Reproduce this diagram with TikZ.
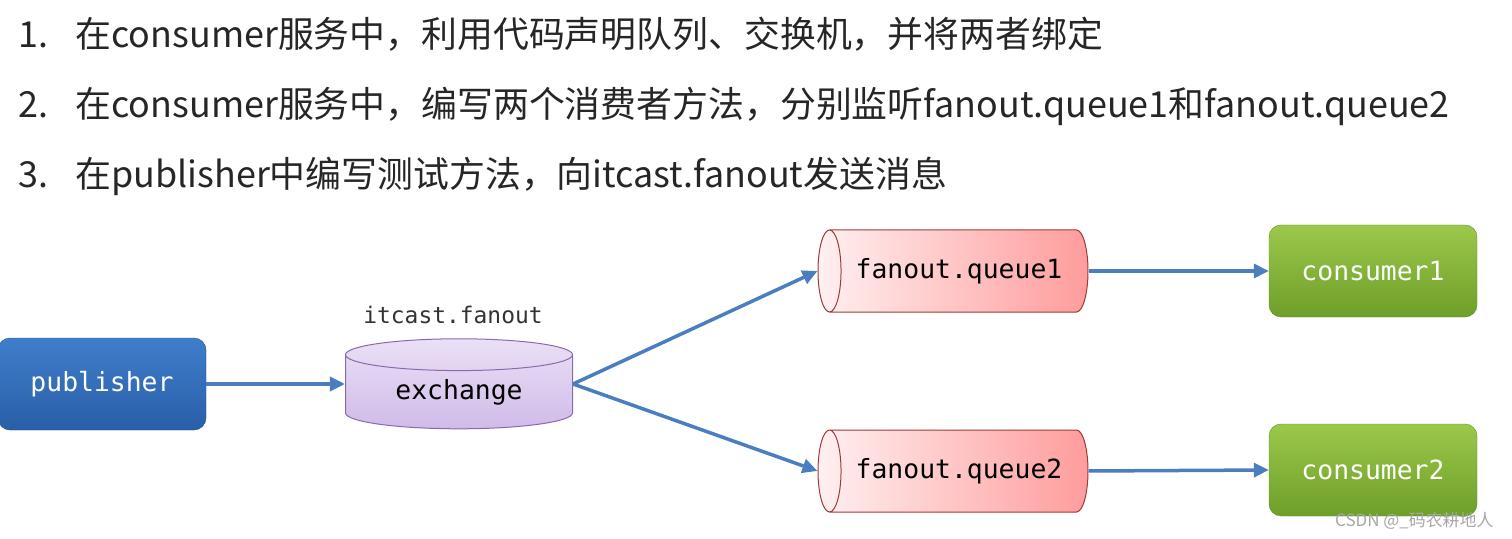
\documentclass[tikz,border=0pt]{standalone}
\usepackage{fontspec}
\setmainfont{Noto Sans CJK SC}
\setmonofont{DejaVu Sans Mono}
\usetikzlibrary{arrows.meta,shapes.geometric}
\definecolor{flowblue}{HTML}{4A7EBF}
\definecolor{pubtop}{HTML}{3F7ECB}
\definecolor{pubbot}{HTML}{2A5EA8}
\definecolor{contop}{HTML}{9CC84B}
\definecolor{conbot}{HTML}{6E9F2A}
\definecolor{exlight}{HTML}{EBE0F6}
\definecolor{exdark}{HTML}{D0BBE8}
\definecolor{exline}{HTML}{8A6AAE}
\definecolor{qlight}{HTML}{FFF0F0}
\definecolor{qdark}{HTML}{FF9C9C}
\definecolor{qline}{HTML}{9E3A3A}

\begin{document}
\begin{tikzpicture}[x=1bp,y=-1bp,
    step text/.style={anchor=base west,font=\fontsize{36}{42}\selectfont,text=black!85},
    mono/.style={font=\ttfamily\fontsize{26.5}{30}\selectfont},
    box/.style={mono,rounded corners=12bp,minimum width=208bp,minimum height=92bp,text=white,inner sep=0pt},
    pubbox/.style={box,draw=pubbot!80!black,top color=pubtop,bottom color=pubbot},
    conbox/.style={box,draw=conbot!90!black,top color=contop,bottom color=conbot},
    queue/.style={mono,shape=cylinder,shape border rotate=180,draw=qline,line width=1bp,left color=qlight,right color=qdark,
      minimum width=82bp,minimum height=270bp,aspect=0.9,inner sep=0pt},
    exch/.style={mono,shape=cylinder,shape border rotate=90,draw=exline,line width=1bp,top color=exlight,bottom color=exdark,
      minimum width=227bp,minimum height=90bp,aspect=0.25,inner sep=0pt},
    flow/.style={line width=3.5bp,flowblue,-{Triangle[length=15bp,width=14bp]}}]
  \useasboundingbox (0,0) rectangle (1512,539);

  % steps
  \node[step text] (n1) at (15,48) {1.};
  \node[step text] (s1) at (72,48) {在consumer服务中，利用代码声明队列、交换机，并将两者绑定};
  \node[step text] (n2) at (15,118) {2.};
  \node[step text] (s2) at (72,118) {在consumer服务中，编写两个消费者方法，分别监听fanout.queue1和fanout.queue2};
  \node[step text] (n3) at (15,188) {3.};
  \node[step text] (s3) at (72,188) {在publisher中编写测试方法，向itcast.fanout发送消息};

  % nodes
  \node[pubbox] (pub) at (102,384) {publisher};
  \node[exch] (ex) at (459,392) {exchange};
  \node[mono,font=\ttfamily\fontsize{23}{26}\selectfont,text=black!80] (exname) at (453,315) {itcast.fanout};
  \node[queue] (q1) at (959,271) {fanout.queue1};
  \node[queue] (q2) at (959,471) {fanout.queue2};
  \node[conbox] (c1) at (1373,271) {consumer1};
  \node[conbox] (c2) at (1373,470) {consumer2};

  % arrows
  \draw[flow] (pub.east) -- (ex.west |- pub.east);
  \draw[flow] (ex.east |- pub.east) -- (q1.west);
  \draw[flow] (ex.east |- pub.east) -- (q2.west);
  \draw[flow] (q1.east) -- (c1.west);
  \draw[flow] (q2.east) -- (c2.west);

  \node[anchor=base east,font=\fontsize{17}{20}\selectfont,text=black!35] (mark) at (1497,526) {CSDN @\_码农耕地人};
\end{tikzpicture}
\end{document}
